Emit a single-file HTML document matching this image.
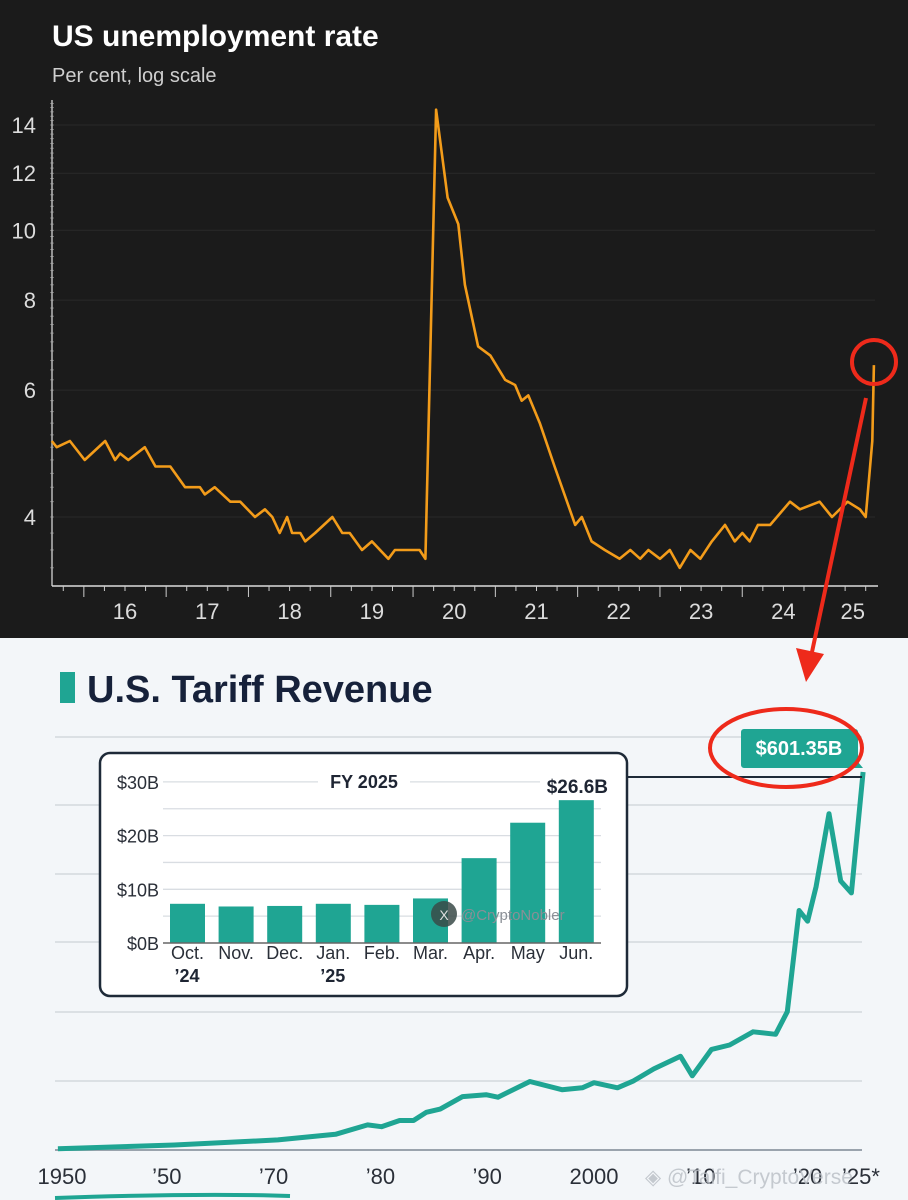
<!DOCTYPE html>
<html><head><meta charset="utf-8">
<style>
html,body{margin:0;padding:0;width:908px;height:1200px;overflow:hidden;background:#f3f6f9;}
svg{display:block;font-family:"Liberation Sans",sans-serif;}
</style></head>
<body>
<svg id="root" width="908" height="1200" viewBox="0 0 908 1200" xmlns="http://www.w3.org/2000/svg">
  <rect x="0" y="0" width="908" height="638" fill="#1b1b1b"/>
  <text x="52" y="46" fill="#fff" font-size="30" font-weight="bold">US unemployment rate</text>
  <text x="52" y="82" fill="#cfcfcf" font-size="20">Per cent, log scale</text>
  <g id="topChart"></g>

  <rect x="0" y="638" width="908" height="562" fill="#f3f6f9"/>
  <rect x="60" y="672" width="15" height="31" fill="#1fa593"/>
  <text x="87" y="702" fill="#16213a" font-size="38" font-weight="bold">U.S. Tariff Revenue</text>
  <g id="botChart"></g>
  <g id="inset"></g>
  <g id="annot"></g>
</svg>
<script>
// ---------- Unemployment data ----------
const uDates = [15.61,15.67,15.83,16.01,16.26,16.38,16.44,16.54,16.74,16.87,17.05,17.23,17.41,17.47,17.59,17.78,17.90,18.08,18.20,18.29,18.38,18.47,18.53,18.63,18.69,18.81,19.02,19.14,19.23,19.38,19.50,19.70,19.78,20.08,20.15,20.28,20.42,20.55,20.63,20.79,20.94,21.12,21.24,21.32,21.40,21.54,21.72,21.97,22.05,22.17,22.33,22.51,22.64,22.76,22.86,23.00,23.12,23.24,23.37,23.49,23.63,23.79,23.91,24.00,24.09,24.19,24.34,24.58,24.70,24.94,25.09,25.28,25.43,25.50,25.58,25.60];
const uValues = [5.1,5.0,5.1,4.8,5.1,4.8,4.9,4.8,5.0,4.7,4.7,4.4,4.4,4.3,4.4,4.2,4.2,4.0,4.1,4.0,3.8,4.0,3.8,3.8,3.7,3.8,4.0,3.8,3.8,3.6,3.7,3.5,3.6,3.6,3.5,14.7,11.1,10.2,8.4,6.9,6.7,6.2,6.1,5.8,5.9,5.4,4.7,3.9,4.0,3.7,3.6,3.5,3.6,3.5,3.6,3.5,3.6,3.4,3.6,3.5,3.7,3.9,3.7,3.8,3.7,3.9,3.9,4.2,4.1,4.2,4.0,4.2,4.1,4.0,5.1,6.5];
const uYTicks = [4,6,8,10,12,14];
const uXTicks = [16,17,18,19,20,21,22,23,24,25];

// ---------- Tariff revenue data ----------
const tYears = [1949.8,1960.7,1970.4,1975.8,1978.8,1980.1,1981.8,1983.1,1984.3,1985.6,1987.7,1989.9,1991.0,1994.0,1997.0,1998.9,2000.0,2002.2,2003.7,2005.6,2008.1,2009.2,2011.0,2012.7,2014.9,2017.0,2018.1,2019.2,2020.0,2020.8,2022.0,2023.1,2024.1,2025.2];
const tValues = [2,8,16,25,40,37,47,47,60,65,85,88,84,109,96,99,107,99,110,129,149,118,160,167,188,184,220,381,364,419,535,428,409,601.35];
const tTickYears = [1950,1960,1970,1980,1990,2000,2010,2020,2025];
const tTickLabels = ["1950","’50","’70","’80","’90","2000","’10","’20","’25*"];

// ---------- Inset monthly data ----------
const mCats = ["Oct.","Nov.","Dec.","Jan.","Feb.","Mar.","Apr.","May","Jun."];
const mSub = ["’24","","","’25","","","","",""];
const mValues = [7.3,6.8,6.9,7.3,7.1,8.3,15.8,22.4,26.6];
const mYTicks = [0,10,20,30];

const NS="http://www.w3.org/2000/svg";
function mk(parent,tag,attrs,text){const e=document.createElementNS(NS,tag);for(const k in attrs)e.setAttribute(k,attrs[k]);if(text!==undefined)e.textContent=text;parent.appendChild(e);return e;}

// ---- top chart ----
const topG=document.getElementById('topChart');
const ux=t=>52+(t-15.613)*82.3;
const uy=v=>517-(Math.log(v)-Math.log(4))*312.9;
for(const v of uYTicks){
  const g=mk(topG,'line',{x1:52,x2:875,y1:uy(v),y2:uy(v),stroke:'#2a2a2a','stroke-width':1});
  
  
  const t=mk(topG,'text',{x:36,y:uy(v)+8,fill:'#dcdcdc','font-size':22,'text-anchor':'end'},String(v));
  
  
}
for(let v=3.4;v<=15;v+=0.2){const m=mk(topG,'line',{x1:50,x2:54,y1:uy(v),y2:uy(v),stroke:'#888','stroke-width':0.7});}
const yax=mk(topG,'line',{x1:52,x2:52,y1:100,y2:586,stroke:'#bbb','stroke-width':1.5});

const xax=mk(topG,'line',{x1:52,x2:878,y1:586,y2:586,stroke:'#ddd','stroke-width':1.5});

for(let t=15.75;t<25.7;t+=0.25){const isY=Math.abs(t-Math.round(t))<0.01;const m=mk(topG,'line',{x1:ux(t),x2:ux(t),y1:586,y2:isY?597:591,stroke:'#ccc','stroke-width':1});}
for(const y of uXTicks){
  const t=mk(topG,'text',{x:ux(y+0.5)+(y==25?-13:0),y:619,fill:'#dcdcdc','font-size':22,'text-anchor':'middle'},String(y));
  
  
}
const up=mk(topG,'polyline',{points:uDates.map((d,i)=>ux(d).toFixed(1)+','+uy(uValues[i]).toFixed(1)).join(' '),fill:'none',stroke:'#f39c1a','stroke-width':2.6,'stroke-linejoin':'round'});



// ---- bottom chart ----
const bot=document.getElementById('botChart');
const tx=y=>594+(y-2000)*10.68;
const ty=v=>1150-v*0.6286;
[737,805,874,942,1012,1081].forEach(gy=>{const g=mk(bot,'line',{x1:55,x2:862,y1:gy,y2:gy,stroke:'#d3d8de','stroke-width':1.5});});
const base=mk(bot,'line',{x1:55,x2:862,y1:1150,y2:1150,stroke:'#9aa3ad','stroke-width':2});

tTickYears.forEach((y,i)=>{
  const t=mk(bot,'text',{x:i==0?62:tx(y),y:1184,fill:'#2a2f38','font-size':22,'text-anchor':'middle'},tTickLabels[i]);
  
  
});
const tl=mk(bot,'polyline',{points:tYears.map((y,i)=>tx(y).toFixed(1)+','+ty(tValues[i]).toFixed(1)).join(' '),fill:'none',stroke:'#1fa593','stroke-width':5,'stroke-linejoin':'round'});


const strip=mk(bot,'path',{d:'M55 1198 Q200 1193 290 1196',stroke:'#1fa593','stroke-width':4,fill:'none'});

const wm=mk(bot,'text',{x:645,y:1184,fill:'#b9bec5','font-size':21,opacity:0.8},'◈ @Taifi_CryptoVerse');


// ---- inset ----
const ins=document.getElementById('inset');
const box=mk(ins,'rect',{x:100,y:753,width:527,height:243,rx:10,fill:'#fff',stroke:'#1e2a38','stroke-width':2.5});

const my=v=>943-v*5.37;
const mx=i=>170+i*48.6;
for(let v=5;v<=25;v+=5){const g=mk(ins,'line',{x1:163,x2:601,y1:my(v),y2:my(v),stroke:'#d9dde2','stroke-width':1.3});}
const g30a=mk(ins,'line',{x1:163,x2:318,y1:my(30),y2:my(30),stroke:'#d9dde2','stroke-width':1.3});
const g30b=mk(ins,'line',{x1:410,x2:540,y1:my(30),y2:my(30),stroke:'#d9dde2','stroke-width':1.3});
mYTicks.forEach(v=>{const t=mk(ins,'text',{x:159,y:my(v)+7,fill:'#2a2f38','font-size':18,'text-anchor':'end'},'$'+v+'B');});
mValues.forEach((v,i)=>{
  const r=mk(ins,'rect',{x:mx(i),y:my(v),width:35,height:my(0)-my(v),fill:'#1fa593'});
  
  
  const t=mk(ins,'text',{x:mx(i)+17.5,y:959,fill:'#2a2f38','font-size':18,'text-anchor':'middle'},mCats[i]);
  
  if(mSub[i]){const s=mk(ins,'text',{x:mx(i)+17,y:982,fill:'#1e2533','font-size':18,'font-weight':'bold','text-anchor':'middle'},mSub[i]);}
});
const ax0=mk(ins,'line',{x1:163,x2:601,y1:my(0),y2:my(0),stroke:'#666','stroke-width':1.5});
const ft=mk(ins,'text',{x:364,y:788,fill:'#1e2533','font-size':18,'font-weight':'bold','text-anchor':'middle'},'FY 2025');
const lv=mk(ins,'text',{x:608,y:793,fill:'#1e2533','font-size':19,'font-weight':'bold','text-anchor':'end'},'$'+mValues[mValues.length-1]+'B');
const xc=mk(ins,'circle',{cx:444,cy:914,r:13,fill:'#3a4a48',opacity:0.85});
const xt=mk(ins,'text',{x:444,y:920,fill:'#ddd','font-size':14,'text-anchor':'middle'},'X');
const cn=mk(ins,'text',{x:461,y:920,fill:'#8a8f96','font-size':15},'@CryptoNobler');

// ---- annotations ----
const an=document.getElementById('annot');
const con=mk(an,'line',{x1:627,x2:862,y1:777,y2:777,stroke:'#1e2a38','stroke-width':2});
const lb=mk(an,'path',{d:'M741 729 h114 a3 3 0 0 1 3 3 v30 l5 6 h-8 h-111 a3 3 0 0 1 -3 -3 v-33 a3 3 0 0 1 3 -3z',fill:'#1fa593'});
const lt=mk(an,'text',{x:799,y:755,fill:'#fff','font-size':20,'font-weight':'bold','text-anchor':'middle'},'$601.35B');
const el=mk(an,'ellipse',{cx:786,cy:748,rx:76,ry:39,fill:'none',stroke:'#ee2a1b','stroke-width':4});
const rc=mk(an,'circle',{cx:874,cy:362,r:22,fill:'none',stroke:'#ee2a1b','stroke-width':4});
const ar=mk(an,'line',{x1:866,y1:398,x2:812,y2:652,stroke:'#ee2a1b','stroke-width':4});
const ah=mk(an,'polygon',{points:'796,648 824,654 806,682',fill:'#ee2a1b'});
</script>
</body></html>
